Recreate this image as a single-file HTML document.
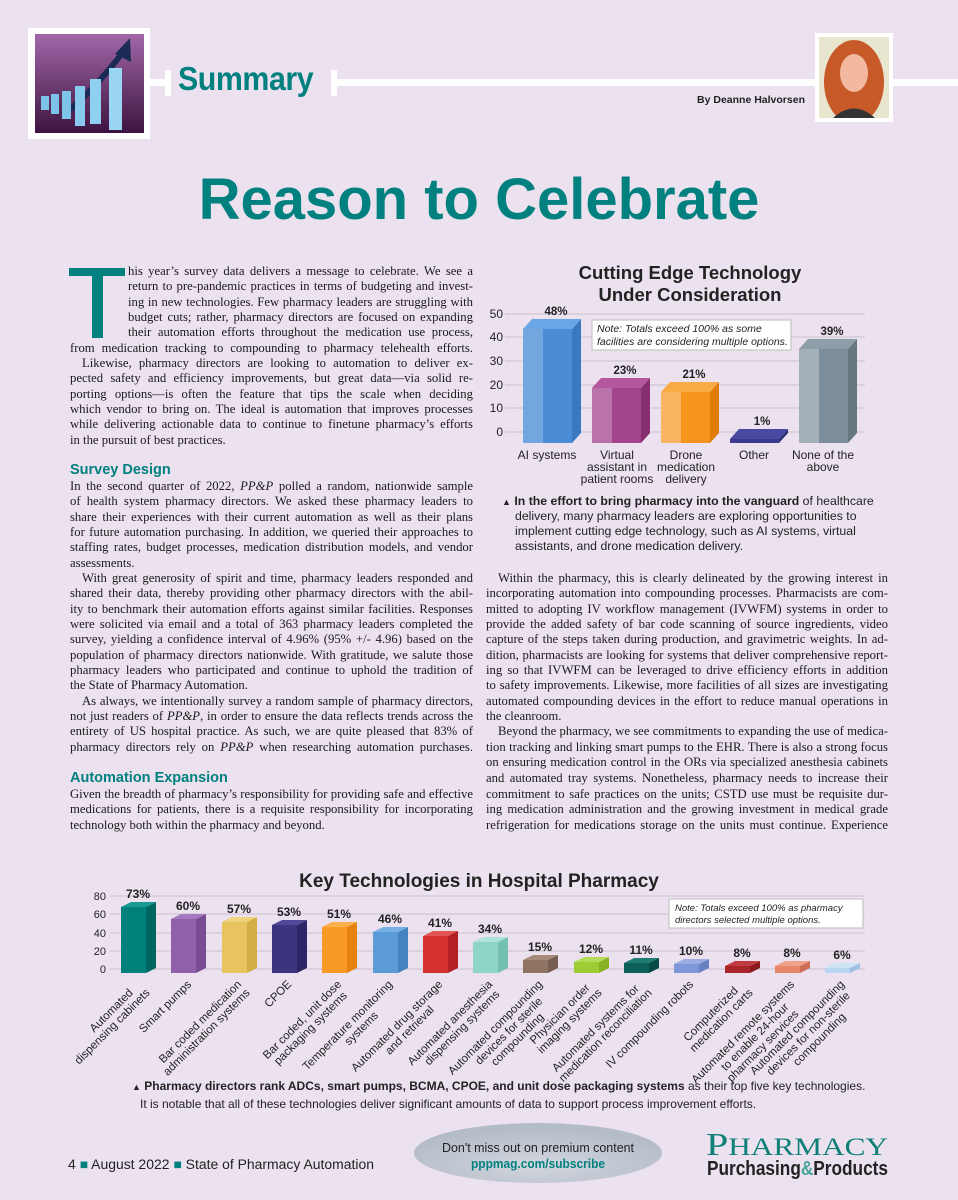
<!DOCTYPE html>
<html><head><meta charset="utf-8"><style>
*{margin:0;padding:0;box-sizing:border-box}
body{width:958px;height:1200px;background:#ece1ef;position:relative;overflow:hidden;font-family:"Liberation Serif",serif;color:#1a1a1a}
.a{position:absolute}
.l{position:absolute;height:16px;line-height:16px;font-size:12.7px;text-align:justify;text-align-last:justify;white-space:nowrap;overflow:hidden}
.L{left:70px;width:403px}
.R{left:486px;width:402px}
.e{text-align-last:left}
.in{text-indent:12px}
.h{position:absolute;font-family:"Liberation Sans",sans-serif;font-weight:bold;color:#00807e;font-size:14.5px}
.sans{font-family:"Liberation Sans",sans-serif}
</style></head><body>

<!-- header -->
<div class="a" style="left:150px;top:79px;width:808px;height:7px;background:#fff"></div>
<div class="a" style="left:165px;top:70px;width:172px;height:26px;background:#ece1ef;border-left:6px solid #fff;border-right:6px solid #fff"></div>
<div class="a sans" style="left:178px;top:60px;font-size:33px;font-weight:bold;color:#00807e;transform:scaleX(0.92);transform-origin:left top;letter-spacing:-0.5px">Summary</div>
<div class="a" style="left:28px;top:28px;width:122px;height:111px;background:#fff"></div>
<svg class="a" style="left:35px;top:34px" width="109" height="99">
<defs><linearGradient id="pg" x1="0" y1="0" x2="0" y2="1"><stop offset="0" stop-color="#a267a8"/><stop offset="1" stop-color="#3d1440"/></linearGradient></defs>
<rect width="109" height="99" fill="url(#pg)"/>
<path d="M30 80 Q60 55 88 18" stroke="#1c2b55" stroke-width="6" fill="none"/><polygon points="80,20 95,4 96,28" fill="#1c2b55"/>
<rect x="6" y="62" width="8" height="14" fill="#7ec3e8"/><rect x="16" y="60" width="8" height="20" fill="#7ec3e8"/><rect x="27" y="57" width="9" height="28" fill="#7ec3e8"/><rect x="40" y="52" width="10" height="40" fill="#88cbee"/><rect x="55" y="45" width="11" height="45" fill="#8fd0f0"/><rect x="74" y="34" width="13" height="62" fill="#9ad6f3"/>
</svg>
<div class="a" style="left:815px;top:33px;width:78px;height:89px;background:#fff"></div>
<svg class="a" style="left:819px;top:37px" width="70" height="81">
<rect width="70" height="81" fill="#e9e6d0"/>
<ellipse cx="35" cy="45" rx="30" ry="42" fill="#c85a2a"/>
<ellipse cx="35" cy="36" rx="14" ry="19" fill="#f2b9a0"/>
<path d="M14 81 Q35 62 56 81Z" fill="#333"/>
</svg>
<div class="a sans" style="left:640px;top:94px;width:165px;text-align:right;font-size:10.5px;font-weight:bold;color:#222">By Deanne Halvorsen</div>
<div class="a sans" style="left:0;top:166px;width:958px;text-align:center;font-size:58px;font-weight:bold;color:#00807e">Reason to Celebrate</div>

<!-- drop cap -->
<div class="a" style="left:69px;top:268px;width:56px;height:8px;background:#00807e"></div>
<div class="a" style="left:92px;top:268px;width:11px;height:70px;background:#00807e"></div>

<!-- left column -->
<div class="l" style="left:128px;width:345px;top:263px">his year’s survey data delivers a message to celebrate. We see a</div>
<div class="l" style="left:128px;width:345px;top:278px">return to pre-pandemic practices in terms of budgeting and invest-</div>
<div class="l" style="left:128px;width:345px;top:294px">ing in new technologies. Few pharmacy leaders are struggling with</div>
<div class="l" style="left:128px;width:345px;top:309px">budget cuts; rather, pharmacy directors are focused on expanding</div>
<div class="l" style="left:128px;width:345px;top:324px">their automation efforts throughout the medication use process,</div>
<div class="l L" style="top:340px">from medication tracking to compounding to pharmacy telehealth efforts.</div>
<div class="l L in" style="top:355px">Likewise, pharmacy directors are looking to automation to deliver ex-</div>
<div class="l L" style="top:370px">pected safety and efficiency improvements, but great data—via solid re-</div>
<div class="l L" style="top:386px">porting options—is often the feature that tips the scale when deciding</div>
<div class="l L" style="top:401px">which vendor to bring on. The ideal is automation that improves processes</div>
<div class="l L" style="top:416px">while delivering actionable data to continue to finetune pharmacy’s efforts</div>
<div class="l L e" style="top:432px">in the pursuit of best practices.</div>
<div class="h" style="left:70px;top:462px">Survey Design</div>
<div class="l L" style="top:478px">In the second quarter of 2022, <i>PP&amp;P</i> polled a random, nationwide sample</div>
<div class="l L" style="top:493px">of health system pharmacy directors. We asked these pharmacy leaders to</div>
<div class="l L" style="top:509px">share their experiences with their current automation as well as their plans</div>
<div class="l L" style="top:524px">for future automation purchasing. In addition, we queried their approaches to</div>
<div class="l L" style="top:539px">staffing rates, budget processes, medication distribution models, and vendor</div>
<div class="l L e" style="top:555px">assessments.</div>
<div class="l L in" style="top:570px">With great generosity of spirit and time, pharmacy leaders responded and</div>
<div class="l L" style="top:585px">shared their data, thereby providing other pharmacy directors with the abil-</div>
<div class="l L" style="top:601px">ity to benchmark their automation efforts against similar facilities. Responses</div>
<div class="l L" style="top:616px">were solicited via email and a total of 363 pharmacy leaders completed the</div>
<div class="l L" style="top:631px">survey, yielding a confidence interval of 4.96% (95% +/- 4.96) based on the</div>
<div class="l L" style="top:647px">population of pharmacy directors nationwide. With gratitude, we salute those</div>
<div class="l L" style="top:662px">pharmacy leaders who participated and continue to uphold the tradition of</div>
<div class="l L e" style="top:677px">the State of Pharmacy Automation.</div>
<div class="l L in" style="top:693px">As always, we intentionally survey a random sample of pharmacy directors,</div>
<div class="l L" style="top:708px">not just readers of <i>PP&amp;P</i>, in order to ensure the data reflects trends across the</div>
<div class="l L" style="top:723px">entirety of US hospital practice. As such, we are quite pleased that 83% of</div>
<div class="l L" style="top:739px">pharmacy directors rely on <i>PP&amp;P</i> when researching automation purchases.</div>
<div class="h" style="left:70px;top:770px">Automation Expansion</div>
<div class="l L" style="top:786px">Given the breadth of pharmacy’s responsibility for providing safe and effective</div>
<div class="l L" style="top:801px">medications for patients, there is a requisite responsibility for incorporating</div>
<div class="l L e" style="top:817px">technology both within the pharmacy and beyond.</div>

<!-- right column -->
<div class="l R in" style="top:570px">Within the pharmacy, this is clearly delineated by the growing interest in</div>
<div class="l R" style="top:585px">incorporating automation into compounding processes. Pharmacists are com-</div>
<div class="l R" style="top:601px">mitted to adopting IV workflow management (IVWFM) systems in order to</div>
<div class="l R" style="top:616px">provide the added safety of bar code scanning of source ingredients, video</div>
<div class="l R" style="top:631px">capture of the steps taken during production, and gravimetric weights. In ad-</div>
<div class="l R" style="top:647px">dition, pharmacists are looking for systems that deliver comprehensive report-</div>
<div class="l R" style="top:662px">ing so that IVWFM can be leveraged to drive efficiency efforts in addition</div>
<div class="l R" style="top:677px">to safety improvements. Likewise, more facilities of all sizes are investigating</div>
<div class="l R" style="top:693px">automated compounding devices in the effort to reduce manual operations in</div>
<div class="l R e" style="top:708px">the cleanroom.</div>
<div class="l R in" style="top:723px">Beyond the pharmacy, we see commitments to expanding the use of medica-</div>
<div class="l R" style="top:739px">tion tracking and linking smart pumps to the EHR. There is also a strong focus</div>
<div class="l R" style="top:754px">on ensuring medication control in the ORs via specialized anesthesia cabinets</div>
<div class="l R" style="top:770px">and automated tray systems. Nonetheless, pharmacy needs to increase their</div>
<div class="l R" style="top:786px">commitment to safe practices on the units; CSTD use must be requisite dur-</div>
<div class="l R" style="top:801px">ing medication administration and the growing investment in medical grade</div>
<div class="l R" style="top:817px">refrigeration for medications storage on the units must continue. Experience</div>

<svg class="a" style="left:0;top:0" width="958" height="1200" font-family="Liberation Sans, sans-serif">
<g font-weight="bold" font-size="18.5" text-anchor="middle" fill="#222">
<text x="690" y="279">Cutting Edge Technology</text>
<text x="690" y="301">Under Consideration</text>
</g>
<g stroke="#c9bfcc" stroke-width="1">
<line x1="505" y1="314" x2="865" y2="314"/><line x1="505" y1="337" x2="865" y2="337"/><line x1="505" y1="361" x2="865" y2="361"/><line x1="505" y1="385" x2="865" y2="385"/><line x1="505" y1="408" x2="865" y2="408"/><line x1="505" y1="432" x2="865" y2="432"/>
</g>
<g font-size="12" text-anchor="end" fill="#222">
<text x="503" y="318">50</text><text x="503" y="341">40</text><text x="503" y="365">30</text><text x="503" y="389">20</text><text x="503" y="412">10</text><text x="503" y="436">0</text>
</g>
<g transform="translate(523,329)"><rect width="49" height="114" fill="#4a8dd6"/><rect width="20" height="114" fill="#fff" opacity="0.22"/><polygon points="49,0 58,-10 58,104 49,114" fill="#3a78c0"/><polygon points="0,0 9,-10 58,-10 49,0" fill="#6aa6e6"/></g>
<g transform="translate(592,388)"><rect width="49" height="55" fill="#a2438e"/><rect width="20" height="55" fill="#fff" opacity="0.25"/><polygon points="49,0 58,-10 58,45 49,55" fill="#86306f"/><polygon points="0,0 9,-10 58,-10 49,0" fill="#b5569f"/></g>
<g transform="translate(661,392)"><rect width="49" height="51" fill="#f7941d"/><rect width="20" height="51" fill="#fff" opacity="0.3"/><polygon points="49,0 58,-10 58,41 49,51" fill="#e07c0a"/><polygon points="0,0 9,-10 58,-10 49,0" fill="#fbab45"/></g>
<g transform="translate(730,439)"><rect width="49" height="4" fill="#3b3a8f"/><polygon points="49,0 58,-10 58,-6 49,4" fill="#2d2c75"/><polygon points="0,0 9,-10 58,-10 49,0" fill="#4b4aa3"/></g>
<g transform="translate(799,349)"><rect width="49" height="94" fill="#7b8e9a"/><rect width="20" height="94" fill="#fff" opacity="0.3"/><polygon points="49,0 58,-10 58,84 49,94" fill="#66787f"/><polygon points="0,0 9,-10 58,-10 49,0" fill="#8d9ea9"/></g>
<g font-size="11.5" font-weight="bold" text-anchor="middle" fill="#222">
<text x="556" y="315">48%</text><text x="625" y="374">23%</text><text x="694" y="378">21%</text><text x="762" y="425">1%</text><text x="832" y="335">39%</text>
</g>
<rect x="592" y="320" width="199" height="30" fill="#fff" stroke="#bbb"/>
<g font-size="10.5" font-style="italic" fill="#222"><text x="597" y="332">Note: Totals exceed 100% as some</text><text x="597" y="345">facilities are considering multiple options.</text></g>
<g font-size="12" text-anchor="middle" fill="#222">
<text x="547" y="459">AI systems</text>
<text x="617" y="459">Virtual</text><text x="617" y="471">assistant in</text><text x="617" y="483">patient rooms</text>
<text x="686" y="459">Drone</text><text x="686" y="471">medication</text><text x="686" y="483">delivery</text>
<text x="754" y="459">Other</text>
<text x="823" y="459">None of the</text><text x="823" y="471">above</text>
</g>
<g font-size="12.3" fill="#222">
<text x="502" y="505"><tspan font-size="9">▲</tspan> <tspan font-weight="bold">In the effort to bring pharmacy into the vanguard</tspan> of healthcare</text>
<text x="515" y="520">delivery, many pharmacy leaders are exploring opportunities to</text>
<text x="515" y="535">implement cutting edge technology, such as AI systems, virtual</text>
<text x="515" y="550">assistants, and drone medication delivery.</text>
</g>

<text x="479" y="887" text-anchor="middle" font-size="19" font-weight="bold" fill="#222">Key Technologies in Hospital Pharmacy</text>
<g stroke="#c9bfcc"><line x1="110" y1="896" x2="865" y2="896"/><line x1="110" y1="914" x2="865" y2="914"/><line x1="110" y1="933" x2="865" y2="933"/><line x1="110" y1="951" x2="865" y2="951"/><line x1="110" y1="969" x2="865" y2="969"/></g>
<g font-size="11" text-anchor="end" fill="#222"><text x="106" y="900">80</text><text x="106" y="918">60</text><text x="106" y="937">40</text><text x="106" y="955">20</text><text x="106" y="973">0</text></g>
<rect x="669" y="899" width="194" height="29" fill="#fff" stroke="#bbb"/>
<g font-size="9.5" font-style="italic" fill="#222"><text x="675" y="911">Note: Totals exceed 100% as pharmacy</text><text x="675" y="923">directors selected multiple options.</text></g>

<g transform="translate(121,907)"><rect width="25" height="66" fill="#00807a"/><polygon points="25,0 35,-5 35,61 25,66" fill="#006660"/><polygon points="0,0 10,-5 35,-5 25,0" fill="#1a9a93"/></g>
<g transform="translate(171,919)"><rect width="25" height="54" fill="#9060ab"/><polygon points="25,0 35,-5 35,49 25,54" fill="#784c92"/><polygon points="0,0 10,-5 35,-5 25,0" fill="#a579bd"/></g>
<g transform="translate(222,922)"><rect width="25" height="51" fill="#e8c45e"/><polygon points="25,0 35,-5 35,46 25,51" fill="#d4ae45"/><polygon points="0,0 10,-5 35,-5 25,0" fill="#f0d37c"/></g>
<g transform="translate(272,925)"><rect width="25" height="48" fill="#3d347f"/><polygon points="25,0 35,-5 35,43 25,48" fill="#2d2666"/><polygon points="0,0 10,-5 35,-5 25,0" fill="#51489a"/></g>
<g transform="translate(322,927)"><rect width="25" height="46" fill="#f89a25"/><polygon points="25,0 35,-5 35,41 25,46" fill="#e3820c"/><polygon points="0,0 10,-5 35,-5 25,0" fill="#fbb050"/></g>
<g transform="translate(373,932)"><rect width="25" height="41" fill="#5b9bd8"/><polygon points="25,0 35,-5 35,36 25,41" fill="#4582c0"/><polygon points="0,0 10,-5 35,-5 25,0" fill="#78b1e6"/></g>
<g transform="translate(423,936)"><rect width="25" height="37" fill="#d5312e"/><polygon points="25,0 35,-5 35,32 25,37" fill="#b31f22"/><polygon points="0,0 10,-5 35,-5 25,0" fill="#e25550"/></g>
<g transform="translate(473,942)"><rect width="25" height="31" fill="#8fd4c6"/><polygon points="25,0 35,-5 35,26 25,31" fill="#74c0b1"/><polygon points="0,0 10,-5 35,-5 25,0" fill="#aee3d8"/></g>
<g transform="translate(523,960)"><rect width="25" height="13" fill="#8e7262"/><polygon points="25,0 35,-5 35,8 25,13" fill="#775d4f"/><polygon points="0,0 10,-5 35,-5 25,0" fill="#a58a7a"/></g>
<g transform="translate(574,962)"><rect width="25" height="11" fill="#9dcc35"/><polygon points="25,0 35,-5 35,6 25,11" fill="#86b224"/><polygon points="0,0 10,-5 35,-5 25,0" fill="#b4dc5a"/></g>
<g transform="translate(624,963)"><rect width="25" height="10" fill="#0c5f58"/><polygon points="25,0 35,-5 35,5 25,10" fill="#074a44"/><polygon points="0,0 10,-5 35,-5 25,0" fill="#1e7a72"/></g>
<g transform="translate(674,964)"><rect width="25" height="9" fill="#7f97d8"/><polygon points="25,0 35,-5 35,4 25,9" fill="#6980c2"/><polygon points="0,0 10,-5 35,-5 25,0" fill="#9aaee4"/></g>
<g transform="translate(725,966)"><rect width="25" height="7" fill="#a8262a"/><polygon points="25,0 35,-5 35,2 25,7" fill="#8a1a1e"/><polygon points="0,0 10,-5 35,-5 25,0" fill="#c03c40"/></g>
<g transform="translate(775,966)"><rect width="25" height="7" fill="#e8866c"/><polygon points="25,0 35,-5 35,2 25,7" fill="#d06e55"/><polygon points="0,0 10,-5 35,-5 25,0" fill="#f0a18b"/></g>
<g transform="translate(825,968)"><rect width="25" height="5" fill="#b8d6f2"/><polygon points="25,0 35,-5 35,0 25,5" fill="#9cc0e2"/><polygon points="0,0 10,-5 35,-5 25,0" fill="#cfe4f7"/></g>

<g font-size="12" font-weight="bold" text-anchor="middle" fill="#222">
<text x="138" y="898">73%</text><text x="188" y="910">60%</text><text x="239" y="913">57%</text><text x="289" y="916">53%</text><text x="339" y="918">51%</text><text x="390" y="923">46%</text><text x="440" y="927">41%</text><text x="490" y="933">34%</text><text x="540" y="951">15%</text><text x="591" y="953">12%</text><text x="641" y="954">11%</text><text x="691" y="955">10%</text><text x="742" y="957">8%</text><text x="792" y="957">8%</text><text x="842" y="959">6%</text>
</g>

<g font-size="11.5" fill="#222" text-anchor="end">
<g transform="translate(142,985) rotate(-45)"><text x="-12" y="0">Automated</text><text x="0" y="12">dispensing cabinets</text></g>
<g transform="translate(192,985) rotate(-45)"><text x="0" y="0">Smart pumps</text></g>
<g transform="translate(242,985) rotate(-45)"><text x="0" y="0">Bar coded medication</text><text x="0" y="12">administration systems</text></g>
<g transform="translate(292,985) rotate(-45)"><text x="0" y="0">CPOE</text></g>
<g transform="translate(342,985) rotate(-45)"><text x="0" y="0">Bar coded, unit dose</text><text x="-4" y="12">packaging systems</text></g>
<g transform="translate(393,985) rotate(-45)"><text x="0" y="0">Temperature monitoring</text><text x="-32" y="12">systems</text></g>
<g transform="translate(443,985) rotate(-45)"><text x="0" y="0">Automated drug storage</text><text x="-24" y="12">and retrieval</text></g>
<g transform="translate(493,985) rotate(-45)"><text x="0" y="0">Automated anesthesia</text><text x="-2" y="12">dispensing systems</text></g>
<g transform="translate(543,985) rotate(-45)"><text x="0" y="0">Automated compounding</text><text x="-12" y="12">devices for sterile</text><text x="-22" y="24">compounding</text></g>
<g transform="translate(594,985) rotate(-45)"><text x="-5" y="0">Physician order</text><text x="0" y="12">imaging systems</text></g>
<g transform="translate(644,985) rotate(-45)"><text x="-6" y="0">Automated systems for</text><text x="0" y="12">medication reconciliation</text></g>
<g transform="translate(694,985) rotate(-45)"><text x="0" y="0">IV compounding robots</text></g>
<g transform="translate(745,985) rotate(-45)"><text x="-9" y="0">Computerized</text><text x="0" y="12">medication carts</text></g>
<g transform="translate(795,985) rotate(-45)"><text x="0" y="0">Automated remote systems</text><text x="-20" y="12">to enable 24-hour</text><text x="-18" y="24">pharmacy services</text></g>
<g transform="translate(845,985) rotate(-45)"><text x="0" y="0">Automated compounding</text><text x="-4" y="12">devices for non-sterile</text><text x="-22" y="24">compounding</text></g>
</g>

<g font-size="12" fill="#222">
<text x="132" y="1090"><tspan font-size="9">▲</tspan> <tspan font-weight="bold">Pharmacy directors rank ADCs, smart pumps, BCMA, CPOE, and unit dose packaging systems</tspan> as their top five key technologies.</text>
<text x="140" y="1108">It is notable that all of these technologies deliver significant amounts of data to support process improvement efforts.</text>
</g>

<defs><radialGradient id="eg" cx="0.5" cy="0.7" r="0.6"><stop offset="0" stop-color="#d2d6de"/><stop offset="1" stop-color="#b4bcc8"/></radialGradient></defs>
<ellipse cx="538" cy="1153" rx="124" ry="30" fill="url(#eg)"/>
<g text-anchor="middle" font-size="12.5">
<text x="538" y="1152" fill="#222" textLength="192" lengthAdjust="spacingAndGlyphs">Don't miss out on premium content</text>
<text x="538" y="1168" fill="#00807e" font-weight="bold" textLength="134" lengthAdjust="spacingAndGlyphs">pppmag.com/subscribe</text>
</g>
<text x="68" y="1169" font-size="13.5" fill="#222" textLength="306" lengthAdjust="spacingAndGlyphs">4 <tspan fill="#00807e">■</tspan> August 2022 <tspan fill="#00807e">■</tspan> State of Pharmacy Automation</text>
<text x="706" y="1155" font-family="Liberation Serif, serif" fill="#0e8078" font-size="32" textLength="182" lengthAdjust="spacingAndGlyphs">P<tspan font-size="25">HARMACY</tspan></text>
<text x="707" y="1175" font-weight="bold" font-size="20" fill="#222" textLength="181" lengthAdjust="spacingAndGlyphs">Purchasing<tspan fill="#4aa39a">&amp;</tspan>Products</text>
</svg>
</body></html>
